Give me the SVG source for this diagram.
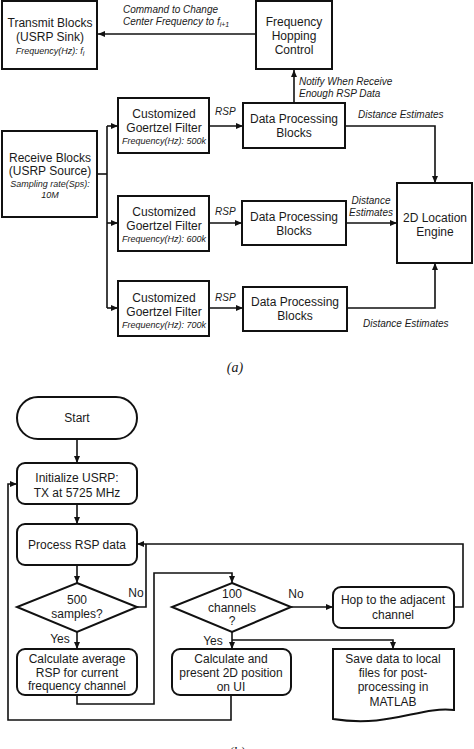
<svg xmlns="http://www.w3.org/2000/svg" width="474" height="749" viewBox="0 0 474 749">
<style>
.box{fill:#fff;stroke:#111;stroke-width:2}
.ln{fill:none;stroke:#111;stroke-width:1.6}
text{font-family:"Liberation Sans",Arial,sans-serif;fill:#1a1a1a}
.t{font-size:12px;text-anchor:middle}
.s{font-size:9px;font-style:italic;text-anchor:middle}
.l{font-size:10px;font-style:italic}
.cap{font-family:"Liberation Serif","Times New Roman",serif;font-size:14px;font-style:italic;text-anchor:middle}
</style>
<defs>
<marker id="ah" markerUnits="userSpaceOnUse" markerWidth="7" markerHeight="6" refX="7" refY="3" orient="auto">
<path d="M0,0 L7,3 L0,6 Z" fill="#111"/>
</marker>
</defs>

<!-- (a) nodes -->
<g id="transmit">
<rect class="box" x="2" y="1" width="95" height="68"/>
<text class="t" x="50" y="27">Transmit Blocks</text>
<text class="t" x="50" y="41">(USRP Sink)</text>
<text class="s" x="50" y="54">Frequency(Hz): f<tspan font-size="7" dy="2">i</tspan></text>
</g>
<g id="fhc">
<rect class="box" x="256" y="1" width="76" height="68"/>
<text class="t" x="294" y="26">Frequency</text>
<text class="t" x="294" y="40">Hopping</text>
<text class="t" x="294" y="54">Control</text>
</g>
<g id="receive">
<rect class="box" x="2" y="131" width="95" height="86"/>
<text class="t" x="50" y="162">Receive Blocks</text>
<text class="t" x="50" y="175">(USRP Source)</text>
<text class="s" x="50" y="187">Sampling rate(Sps):</text>
<text class="s" x="50" y="198">10M</text>
</g>
<g id="filter1">
<rect class="box" x="118" y="98" width="91" height="55"/>
<text class="t" x="164" y="118">Customized</text>
<text class="t" x="164" y="132">Goertzel Filter</text>
<text class="s" x="164" y="144">Frequency(Hz): 500k</text>
</g>
<g id="filter2">
<rect class="box" x="118" y="196" width="91" height="55"/>
<text class="t" x="164" y="216">Customized</text>
<text class="t" x="164" y="230">Goertzel Filter</text>
<text class="s" x="164" y="242">Frequency(Hz): 600k</text>
</g>
<g id="filter3">
<rect class="box" x="118" y="281" width="91" height="55"/>
<text class="t" x="164" y="302">Customized</text>
<text class="t" x="164" y="316">Goertzel Filter</text>
<text class="s" x="164" y="328">Frequency(Hz): 700k</text>
</g>
<g id="dpb1">
<rect class="box" x="243" y="103" width="102" height="45"/>
<text class="t" x="294" y="123">Data Processing</text>
<text class="t" x="294" y="137">Blocks</text>
</g>
<g id="dpb2">
<rect class="box" x="242" y="201" width="104" height="44"/>
<text class="t" x="294" y="221">Data Processing</text>
<text class="t" x="294" y="235">Blocks</text>
</g>
<g id="dpb3">
<rect class="box" x="243" y="287" width="104" height="44"/>
<text class="t" x="295" y="306">Data Processing</text>
<text class="t" x="295" y="320">Blocks</text>
</g>
<g id="engine">
<rect class="box" x="397" y="183" width="75" height="80"/>
<text class="t" x="435" y="222">2D Location</text>
<text class="t" x="435" y="236">Engine</text>
</g>

<!-- (b) nodes -->
<g id="start">
<rect class="box" x="17" y="397" width="120" height="42" rx="21"/>
<text class="t" x="77" y="422">Start</text>
</g>
<g id="init">
<rect class="box" x="17" y="463" width="120" height="41" rx="8"/>
<text class="t" x="77" y="482">Initialize USRP:</text>
<text class="t" x="77" y="497">TX at 5725 MHz</text>
</g>
<g id="process">
<rect class="box" x="17" y="524" width="120" height="41" rx="8"/>
<text class="t" x="77" y="549">Process RSP data</text>
</g>
<g id="samples">
<polygon class="box" points="77,583 137,607 77,632 17,607"/>
<text class="t" x="77" y="604">500</text>
<text class="t" x="77" y="618">samples?</text>
</g>
<g id="average">
<rect class="box" x="17" y="649" width="120" height="46" rx="8"/>
<text class="t" x="77" y="663">Calculate average</text>
<text class="t" x="77" y="677">RSP for current</text>
<text class="t" x="77" y="690">frequency channel</text>
</g>
<g id="channels">
<polygon class="box" points="232,583 291,607 232,632 172,607"/>
<text class="t" x="232" y="598">100</text>
<text class="t" x="232" y="612">channels</text>
<text class="t" x="232" y="625">?</text>
</g>
<g id="hop">
<rect class="box" x="333" y="587" width="121" height="41" rx="8"/>
<text class="t" x="393" y="604">Hop to the adjacent</text>
<text class="t" x="393" y="619">channel</text>
</g>
<g id="present">
<rect class="box" x="172" y="649" width="119" height="46" rx="8"/>
<text class="t" x="231" y="663">Calculate and</text>
<text class="t" x="231" y="677">present 2D position</text>
<text class="t" x="231" y="691">on UI</text>
</g>
<g id="save">
<path class="box" d="M333,649 H454 V710 C420,706 390,728 333,719 Z"/>
<text class="t" x="393" y="663">Save data to local</text>
<text class="t" x="393" y="677">files for post-</text>
<text class="t" x="393" y="691">processing in</text>
<text class="t" x="393" y="706">MATLAB</text>
</g>

<!-- connectors -->
<g id="connectors">
<path class="ln" d="M256,34 H98" marker-end="url(#ah)"/>
<path class="ln" d="M294,103 V70" marker-end="url(#ah)"/>
<path class="ln" d="M97,174 H107"/>
<path class="ln" d="M107,126 V308"/>
<path class="ln" d="M107,126 H118" marker-end="url(#ah)"/>
<path class="ln" d="M107,223 H118" marker-end="url(#ah)"/>
<path class="ln" d="M107,308 H118" marker-end="url(#ah)"/>
<path class="ln" d="M209,126 H243" marker-end="url(#ah)"/>
<path class="ln" d="M209,223 H242" marker-end="url(#ah)"/>
<path class="ln" d="M209,308 H243" marker-end="url(#ah)"/>
<path class="ln" d="M345,126 H435 V183" marker-end="url(#ah)"/>
<path class="ln" d="M346,223 H397" marker-end="url(#ah)"/>
<path class="ln" d="M347,308 H435 V263" marker-end="url(#ah)"/>

<path class="ln" d="M77,439 V463" marker-end="url(#ah)"/>
<path class="ln" d="M77,504 V524" marker-end="url(#ah)"/>
<path class="ln" d="M77,565 V583" marker-end="url(#ah)"/>
<path class="ln" d="M77,632 V649" marker-end="url(#ah)"/>
<path class="ln" d="M137,607 H146 V544"/>
<path class="ln" d="M454,607 H463 V544 H137" marker-end="url(#ah)"/>
<path class="ln" d="M77,695 V704 H154 V573 H232 V583" marker-end="url(#ah)"/>
<path class="ln" d="M291,607 H333" marker-end="url(#ah)"/>
<path class="ln" d="M232,632 V649" marker-end="url(#ah)"/>
<path class="ln" d="M232,640 H393 V649" marker-end="url(#ah)"/>
<path class="ln" d="M231,695 V720 H8 V484 H17" marker-end="url(#ah)"/>
</g>

<!-- labels -->
<g id="labels">
<text class="l" x="123" y="13">Command to Change</text>
<text class="l" x="123" y="25">Center Frequency to f<tspan font-size="7" dy="2">i+1</tspan></text>
<text class="l" x="299" y="85">Notify When Receive</text>
<text class="l" x="299" y="97">Enough RSP Data</text>
<text class="l" x="215" y="115">RSP</text>
<text class="l" x="215" y="215">RSP</text>
<text class="l" x="215" y="301">RSP</text>
<text class="l" x="358" y="118">Distance Estimates</text>
<text class="l" x="371" y="204" text-anchor="middle">Distance</text>
<text class="l" x="371" y="216" text-anchor="middle">Estimates</text>
<text class="l" x="363" y="327">Distance Estimates</text>
<text class="cap" x="235" y="372">(a)</text>
<text class="t" x="136" y="597">No</text>
<text class="t" x="60" y="643">Yes</text>
<text class="t" x="296" y="598">No</text>
<text class="t" x="213" y="645">Yes</text>
<text class="cap" x="237" y="757">(b)</text>
</g>
</svg>
